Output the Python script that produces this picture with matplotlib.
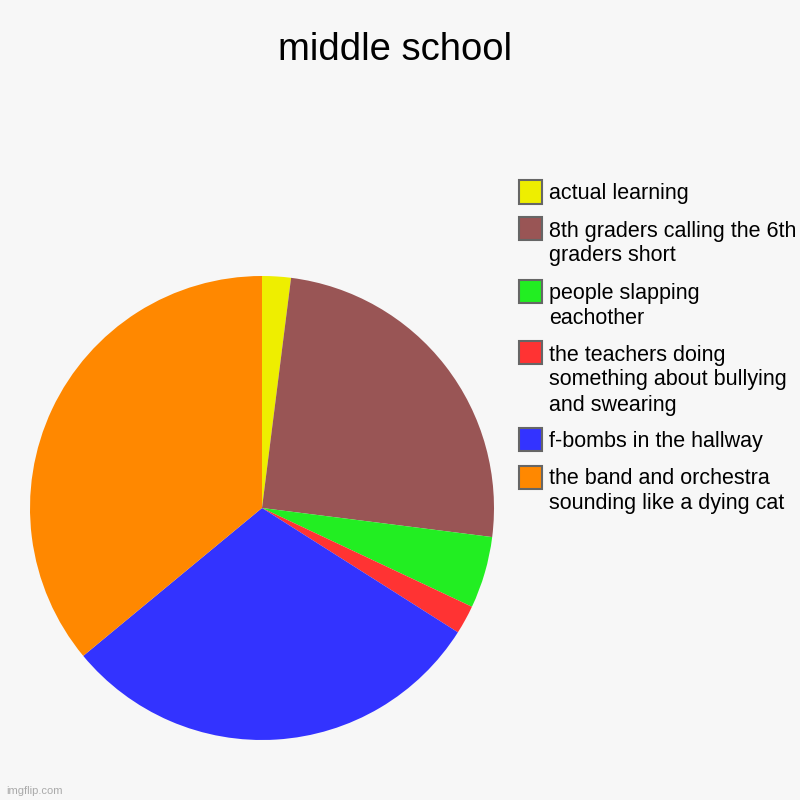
import matplotlib
matplotlib.use('Agg')
import matplotlib.pyplot as plt
from matplotlib.patches import Rectangle

plt.rcParams['font.family'] = ['Liberation Sans', 'DejaVu Sans']

# slice data (clockwise from 12 o'clock)
labels = [
    "actual learning",
    "8th graders calling the 6th\ngraders short",
    "people slapping\neachother",
    "the teachers doing\nsomething about bullying\nand swearing",
    "f-bombs in the hallway",
    "the band and orchestra\nsounding like a dying cat",
]
values = [2, 25, 5, 2, 30, 36]
colors = ["#EEEE00", "#995555", "#22EE22", "#FF3333", "#3333FF", "#FF8800"]

bg = "#F7F7F7"
fig = plt.figure(figsize=(8, 8), dpi=100, facecolor=bg)

ax = fig.add_axes([0.0375, 0.075, 0.58, 0.58])
ax.pie(values, colors=colors, startangle=90, counterclock=False,
       wedgeprops=dict(linewidth=0))
ax.set_xlim(-1, 1)
ax.set_ylim(-1, 1)
ax.set_aspect('equal')
ax.set_facecolor(bg)

fig.text(0.494, 0.938, "middle school", ha='center', va='center', fontsize=27.5)

# legend drawn by hand, positions in pixels
W, H = 800, 800
line_h = 25
y = 194
for lab, col in zip(labels, colors):
    fig.patches.append(Rectangle((519 / W, 1 - (y + 9.5) / H), 23 / W, 23 / H,
                                 transform=fig.transFigure, facecolor=col,
                                 edgecolor="#666666", linewidth=1.5))
    lines = lab.split("\n")
    for i, ln in enumerate(lines):
        fig.text(549 / W, 1 - (y + i * line_h) / H, ln, ha='left', va='center',
                 fontsize=15.5)
    y += line_h * len(lines) + 12

fig.text(6 / W, 1 - 791 / H, "imgflip.com", fontsize=8, color="#AAAAAA",
         ha='left', va='center')

fig.savefig("out.png", dpi=100, facecolor=bg)
